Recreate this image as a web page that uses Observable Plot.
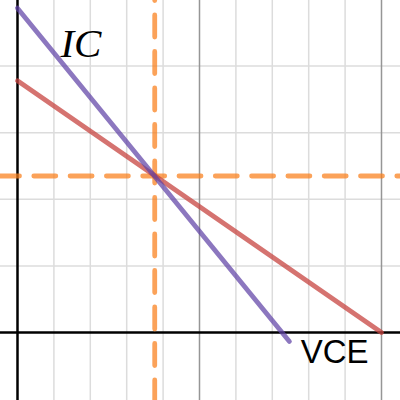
<!DOCTYPE html>
<html>
<head>
<meta charset="utf-8">
<script src="https://cdn.jsdelivr.net/npm/d3@7"></script>
<script src="https://cdn.jsdelivr.net/npm/@observablehq/plot@0.6"></script>
<style>
  html, body { margin: 0; padding: 0; background: #fff; }
  #chart svg { display: block; }
</style>
</head>
<body>
<div id="chart"></div>
<script>
// Grid lines (x in volts, y in mA-like units)
const xMinorGrid = [1, 2, 3, 4, 6, 7, 8, 9];
const xMajorGrid = [5, 10];
const yMinorGrid = [1, 2, 3, 4];

// Red load line
const redVce = [0, 10];
const redIc = [3.78, 0];

// Purple line
const purpleVce = [0, 7.47];
const purpleIc = [4.87, -0.135];

// Q-point (dashed guides)
const qVce = [3.77];
const qIc = [2.35];

// Labels
const labelIC = "IC";
const labelVCE = "VCE";

const xDomain = [-0.467, 10.522];
const yDomain = [-1.021, 4.985];

const red = redVce.map((v, i) => ({vce: v, ic: redIc[i]}));
const purple = purpleVce.map((v, i) => ({vce: v, ic: purpleIc[i]}));

const chart = Plot.plot({
  width: 400,
  height: 400,
  margin: 0,
  x: {domain: xDomain, axis: null},
  y: {domain: yDomain, axis: null},
  style: {background: "#fff"},
  marks: [
    Plot.ruleX(xMinorGrid, {stroke: "#dcdcdc", strokeWidth: 1.5}),
    Plot.ruleY(yMinorGrid, {stroke: "#dcdcdc", strokeWidth: 1.5}),
    Plot.ruleX(xMajorGrid, {stroke: "#969696", strokeWidth: 1.5}),
    Plot.ruleX([0], {stroke: "#000", strokeWidth: 2.5}),
    Plot.ruleY([0], {stroke: "#000", strokeWidth: 2.5}),
    Plot.ruleX(qVce, {y1: yDomain[1], y2: yDomain[0], stroke: "#fa7e19", strokeOpacity: 0.72, strokeWidth: 4.8, strokeDasharray: "22,14.5", strokeDashoffset: 21.5, strokeLinecap: "round"}),
    Plot.ruleY(qIc, {x1: xDomain[0], x2: xDomain[1], stroke: "#fa7e19", strokeOpacity: 0.72, strokeWidth: 4.8, strokeDasharray: "22,14.3", strokeDashoffset: 2.5, strokeLinecap: "round"}),
    Plot.line(red, {x: "vce", y: "ic", stroke: "#c74440", strokeOpacity: 0.75, strokeWidth: 4.8, strokeLinecap: "round"}),
    Plot.line(purple, {x: "vce", y: "ic", stroke: "#6042a6", strokeOpacity: 0.72, strokeWidth: 4.8, strokeLinecap: "round"}),
    Plot.text([labelIC], {x: 1.18, y: 4.13, text: d => d, textAnchor: "start", lineAnchor: "bottom", fontSize: 41, fontFamily: "Liberation Serif", fontStyle: "italic", fill: "#000"}),
    Plot.text([labelVCE], {x: 7.78, y: -0.465, text: d => d, textAnchor: "start", lineAnchor: "bottom", fontSize: 33, fontFamily: "Liberation Sans", fill: "#000"})
  ]
});
document.getElementById("chart").appendChild(chart);
</script>
</body>
</html>
